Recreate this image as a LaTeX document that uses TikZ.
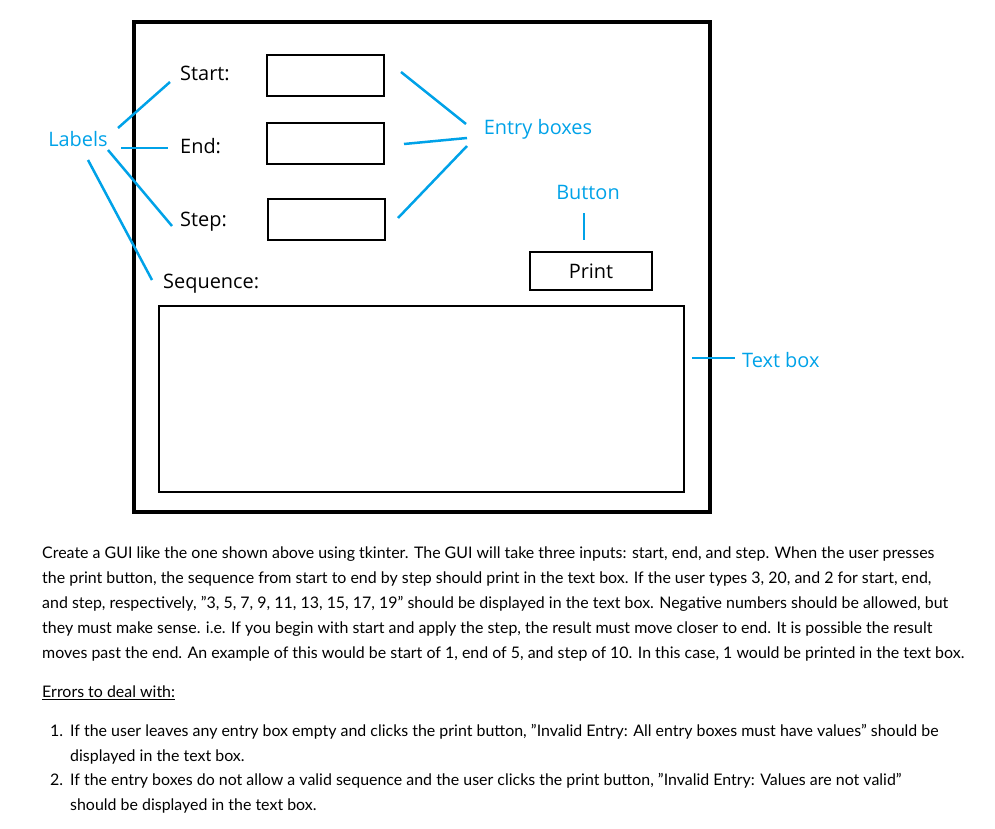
\documentclass[tikz,border=0pt]{standalone}
\usepackage{fontspec}
\setmainfont{Lato}
\newfontfamily\guifont{Open Sans}
\definecolor{paintblue}{RGB}{0,162,232}
\tikzset{
  box/.style={draw,line width=2.5bp},
  lbl/.style={font=\guifont\fontsize{20}{24}\selectfont,inner sep=0pt,anchor=west},
  note/.style={font=\guifont\fontsize{20}{24}\selectfont,text=paintblue,inner sep=0pt},
  ptr/.style={paintblue,line width=2.5bp},
  txt/.style={anchor=base west,inner sep=0pt,font=\fontsize{16}{19}\selectfont}
}
\begin{document}
\begin{tikzpicture}[x=1bp,y=-1bp]
  \useasboundingbox (0,0) rectangle (995,829);
  % window
  \draw[line width=4bp] (134,22) rectangle (710,512);
  % labels and entries
  \node[lbl] (start) at (180,73) {Start:};
  \node[lbl] (end) at (180,146) {End:};
  \node[lbl] (step) at (180,222) {Step:};
  \node[lbl] (seq) at (163,284) {Sequence:};
  \node[box,minimum width=117bp,minimum height=41bp] (startbox) at (325.5,75.5) {};
  \node[box,minimum width=117bp,minimum height=41bp] (endbox) at (325.5,143.5) {};
  \node[box,minimum width=117bp,minimum height=41bp] (stepbox) at (326.5,219.5) {};
  \node[box,minimum width=122bp,minimum height=38bp,font=\guifont\fontsize{20}{24}\selectfont] (print) at (591,271) {Print};
  \node[box,minimum width=525bp,minimum height=186bp] (tbox) at (421.5,399) {};
  % notes
  \node[note] (labels) at (78,139) {Labels};
  \node[note] (entries) at (538,129) {Entry boxes};
  \node[note] (button) at (588,192) {Button};
  \node[note,anchor=west] (textbox) at (742,360) {Text box};
  % pointers
  \coordinate (l1) at (118,128); \coordinate (l1e) at (170,82);
  \coordinate (l2) at (121,148); \coordinate (l2e) at (168,148);
  \coordinate (l3) at (108,150); \coordinate (l3e) at (172,226);
  \coordinate (l4) at (88,160);  \coordinate (l4e) at (152,280);
  \draw[ptr] (l1) -- (l1e);
  \draw[ptr] (l2) -- (l2e);
  \draw[ptr] (l3) -- (l3e);
  \draw[ptr] (l4) -- (l4e);
  \coordinate (e1) at (401,72);  \coordinate (e1e) at (466,124);
  \coordinate (e2) at (404,144); \coordinate (e2e) at (467,138);
  \coordinate (e3) at (398,218); \coordinate (e3e) at (467,146);
  \draw[ptr] (e1) -- (e1e);
  \draw[ptr] (e2) -- (e2e);
  \draw[ptr] (e3) -- (e3e);
  \coordinate (b1) at (584,213); \coordinate (b2) at (584,240);
  \draw[ptr] (b1) -- (b2);
  \coordinate (t1) at (692,358); \coordinate (t1e) at (735,358);
  \draw[ptr] (t1) -- (t1e);
  % description
  \node[txt] (p1) at (42,558) {Create a GUI like the one shown above using tkinter. The GUI will take three inputs: start, end, and step. When the user presses};
  \node[txt] (p2) at (42,583) {the print button, the sequence from start to end by step should print in the text box. If the user types 3, 20, and 2 for start, end,};
  \node[txt] (p3) at (42,608) {and step, respectively, "3, 5, 7, 9, 11, 13, 15, 17, 19" should be displayed in the text box. Negative numbers should be allowed, but};
  \node[txt] (p4) at (42,633) {they must make sense. i.e. If you begin with start and apply the step, the result must move closer to end. It is possible the result};
  \node[txt] (p5) at (42,658) {moves past the end. An example of this would be start of 1, end of 5, and step of 10. In this case, 1 would be printed in the text box.};
  \node[txt] (err) at (42,697) {Errors to deal with:};
  \draw[line width=0.8bp] ([yshift=-2.5bp]err.base west) -- ([yshift=-2.5bp]err.base east);
  \node[txt] (n1) at (50,736) {1.};
  \node[txt] (i1) at (70,736) {If the user leaves any entry box empty and clicks the print button, "Invalid Entry: All entry boxes must have values" should be};
  \node[txt] (i1b) at (70,761) {displayed in the text box.};
  \node[txt] (n2) at (50,785) {2.};
  \node[txt] (i2) at (70,785) {If the entry boxes do not allow a valid sequence and the user clicks the print button, "Invalid Entry: Values are not valid"};
  \node[txt] (i2b) at (70,810) {should be displayed in the text box.};
\end{tikzpicture}
\end{document}
